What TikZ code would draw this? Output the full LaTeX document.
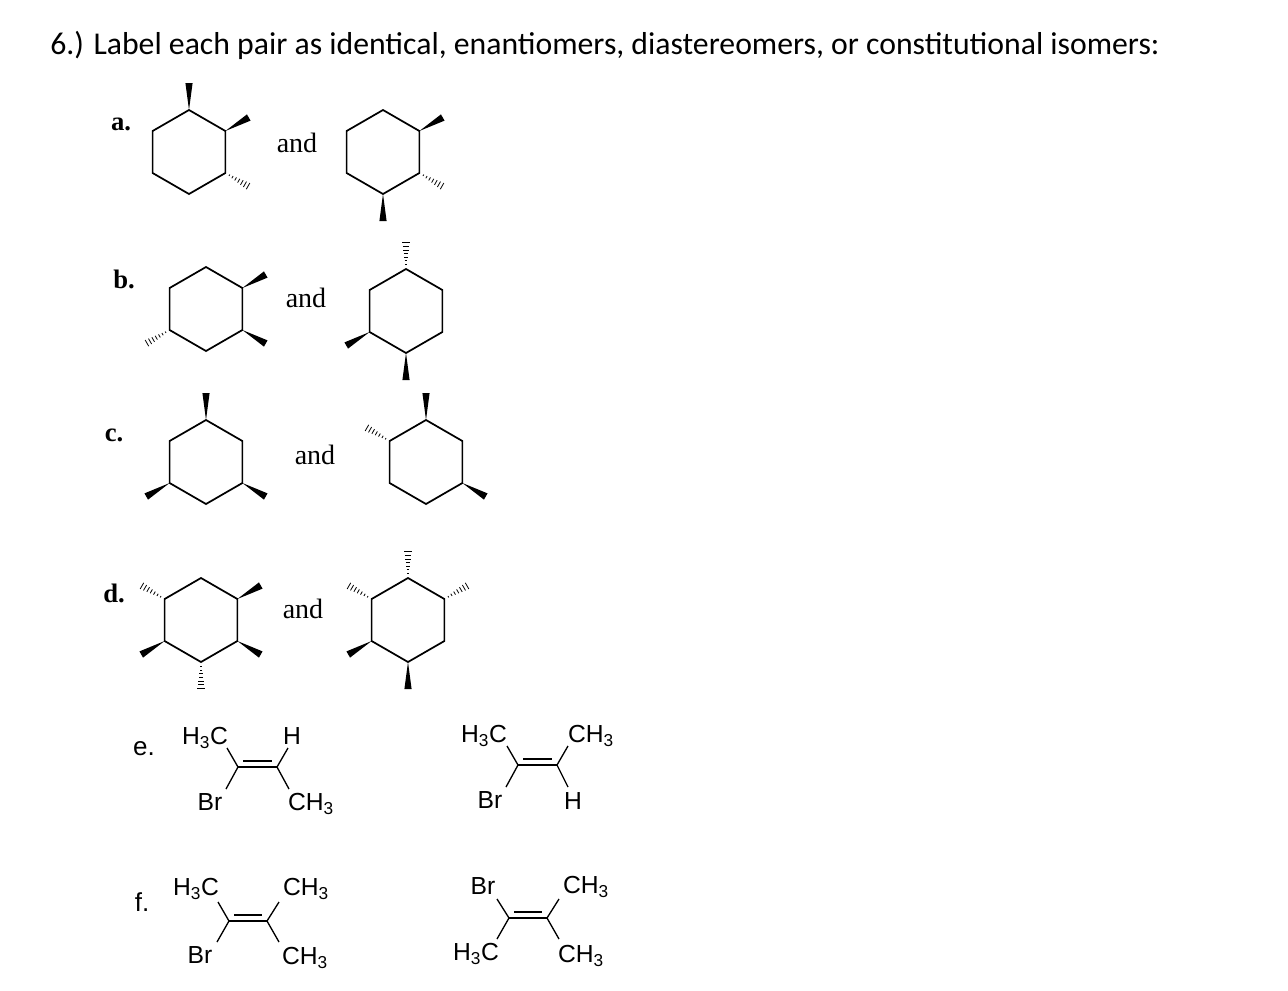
\documentclass[tikz,border=0pt]{standalone}
\usepackage{fontspec}
\setmainfont{Liberation Serif}
\newfontfamily\titlefont{Carlito}
\newfontfamily\arialfont{Liberation Sans}
\usetikzlibrary{calc}
\newcommand\sbs[1]{\textsubscript{#1}}
\tikzset{ring/.style={line width=1.3pt,line join=miter},
 bnd/.style={line width=1pt},
 lbl/.style={font=\fontsize{20}{20}\selectfont\bfseries,inner sep=0pt},
 andtxt/.style={font=\fontsize{21}{21}\selectfont,inner sep=0pt},
 atom/.style={font=\arialfont\fontsize{18.5}{19}\selectfont,inner sep=0pt}}
\newcommand\hexring[2]{%
 \foreach \k/\ang in {1/90,2/30,3/-30,4/-90,5/-150,6/150}{\path (#2) ++(\ang:42) coordinate (#1-\k);}
 \draw[ring] (#1-1)--(#1-2)--(#1-3)--(#1-4)--(#1-5)--(#1-6)--cycle;}
\newcommand\wdg[2]{%
 \path (#1) ++(#2:27) ++(#2+90:3.6) coordinate (wA);
 \path (#1) ++(#2:27) ++(#2-90:3.6) coordinate (wB);
 \fill (#1)--(wA)--(wB)--cycle;}
\newcommand\hsh[2]{%
 \foreach \i in {1,...,7}{%
  \path (#1) ++(#2:\i*3.6+1) ++(#2+90:0.4+\i*0.45) coordinate (hA);
  \path (#1) ++(#2:\i*3.6+1) ++(#2-90:0.4+\i*0.45) coordinate (hB);
  \draw[line width=0.6pt] (hA)--(hB);}}
\begin{document}
\begin{tikzpicture}[x=0.75pt,y=0.75pt]
\useasboundingbox (0,0) rectangle (1288,-990);
\node[anchor=west,inner sep=0pt,font=\titlefont\fontsize{23.8}{24}\selectfont] (title) at (50,-45) {6.) Label each pair as identical, enantiomers, diastereomers, or constitutional isomers:};
% a
\node[lbl] (la) at (121,-124) {a.};
\coordinate (ca1) at (189,-152); \hexring{a1}{ca1}
\wdg{a1-1}{90}\wdg{a1-2}{30}\hsh{a1-3}{-30}
\node[andtxt] (anda) at (297,-143) {and};
\coordinate (ca2) at (383,-152); \hexring{a2}{ca2}
\wdg{a2-2}{30}\hsh{a2-3}{-30}\wdg{a2-4}{-90}
% b
\node[lbl] (lb) at (124,-279) {b.};
\coordinate (cb1) at (206,-309); \hexring{b1}{cb1}
\wdg{b1-2}{30}\wdg{b1-3}{-30}\hsh{b1-5}{-150}
\node[andtxt] (andb) at (306,-298) {and};
\coordinate (cb2) at (406,-311); \hexring{b2}{cb2}
\hsh{b2-1}{90}\wdg{b2-5}{-150}\wdg{b2-4}{-90}
% c
\node[lbl] (lc) at (114,-435) {c.};
\coordinate (cc1) at (206,-462); \hexring{c1}{cc1}
\wdg{c1-1}{90}\wdg{c1-3}{-30}\wdg{c1-5}{-150}
\node[andtxt] (andc) at (315,-455) {and};
\coordinate (cc2) at (426,-462); \hexring{c2}{cc2}
\wdg{c2-1}{90}\hsh{c2-6}{150}\wdg{c2-3}{-30}
% d
\node[lbl] (ld) at (114,-593) {d.};
\coordinate (cd1) at (201,-620); \hexring{d1}{cd1}
\hsh{d1-6}{150}\wdg{d1-2}{30}\wdg{d1-3}{-30}\hsh{d1-4}{-90}\wdg{d1-5}{-150}
\node[andtxt] (andd) at (303,-609) {and};
\coordinate (cd2) at (408,-620); \hexring{d2}{cd2}
\hsh{d2-6}{150}\hsh{d2-1}{90}\hsh{d2-2}{30}\wdg{d2-5}{-150}\wdg{d2-4}{-90}
% e, f labels
\node[atom,font=\arialfont\fontsize{19.5}{20}\selectfont] (le) at (144,-749) {e.};
\node[atom,font=\arialfont\fontsize{19.5}{20}\selectfont] (lf) at (142,-902) {f.};
% e1
\coordinate (e1a) at (238,-767); \coordinate (e1b) at (277,-767);
\draw[bnd] (e1a)--(e1b); \draw[bnd] ($(e1a)+(5,6)$)--($(e1b)+(-5,6)$);
\node[atom] (e1ul) at (205,-738) {H\sbs{3}C}; \node[atom] (e1ur) at (292,-736) {H};
\node[atom] (e1ll) at (210,-802) {Br}; \node[atom] (e1lr) at (311,-804) {CH\sbs{3}};
\draw[bnd] (e1a)--(227,-748); \draw[bnd] (e1a)--(226,-789);
\draw[bnd] (e1b)--(288,-748); \draw[bnd] (e1b)--(289,-789);
% e2
\coordinate (e2a) at (518,-765); \coordinate (e2b) at (557,-765);
\draw[bnd] (e2a)--(e2b); \draw[bnd] ($(e2a)+(5,6)$)--($(e2b)+(-5,6)$);
\node[atom] (e2ul) at (484,-736) {H\sbs{3}C}; \node[atom] (e2ur) at (591,-736) {CH\sbs{3}};
\node[atom] (e2ll) at (490,-800) {Br}; \node[atom] (e2lr) at (573,-801) {H};
\draw[bnd] (e2a)--(507,-746); \draw[bnd] (e2a)--(506,-787);
\draw[bnd] (e2b)--(568,-746); \draw[bnd] (e2b)--(568,-787);
% f1
\coordinate (f1a) at (229,-921); \coordinate (f1b) at (267,-921);
\draw[bnd] (f1a)--(f1b); \draw[bnd] ($(f1a)+(5,6)$)--($(f1b)+(-5,6)$);
\node[atom] (f1ul) at (196,-889) {H\sbs{3}C}; \node[atom] (f1ur) at (306,-889) {CH\sbs{3}};
\node[atom] (f1ll) at (200,-955) {Br}; \node[atom] (f1lr) at (305,-958) {CH\sbs{3}};
\draw[bnd] (f1a)--(218,-902); \draw[bnd] (f1a)--(217,-942);
\draw[bnd] (f1b)--(279,-902); \draw[bnd] (f1b)--(279,-942);
% f2
\coordinate (f2a) at (509,-918); \coordinate (f2b) at (547,-918);
\draw[bnd] (f2a)--(f2b); \draw[bnd] ($(f2a)+(5,6)$)--($(f2b)+(-5,6)$);
\node[atom] (f2ul) at (483,-886) {Br}; \node[atom] (f2ur) at (586,-887) {CH\sbs{3}};
\node[atom] (f2ll) at (476,-954) {H\sbs{3}C}; \node[atom] (f2lr) at (581,-956) {CH\sbs{3}};
\draw[bnd] (f2a)--(497,-899); \draw[bnd] (f2a)--(497,-939);
\draw[bnd] (f2b)--(559,-899); \draw[bnd] (f2b)--(559,-939);
\end{tikzpicture}
\end{document}
